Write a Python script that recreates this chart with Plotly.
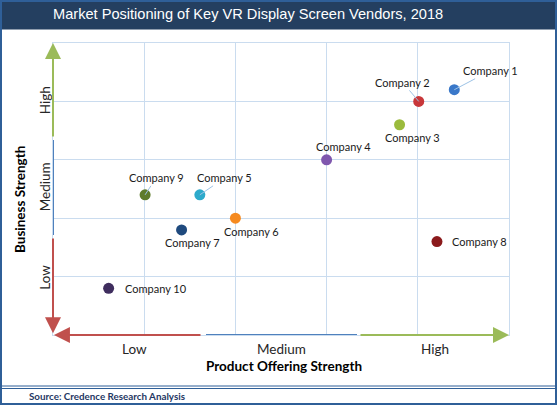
import plotly.graph_objects as go

# ---- data
companies = ["Company 1", "Company 2", "Company 3", "Company 4", "Company 5",
             "Company 6", "Company 7", "Company 8", "Company 9", "Company 10"]
product_strength = [4.40, 4.01, 3.80, 3.00, 1.61, 2.00, 1.41, 4.21, 1.01, 0.61]
business_strength = [4.20, 4.00, 3.60, 3.00, 2.40, 2.00, 1.80, 1.60, 2.40, 0.80]

level_names = ["Low", "Medium", "High"]
x_level_pos = [0.89, 2.51, 4.19]
y_level_pos = [0.98, 2.53, 4.02]

# ---- styles
dot_colors = ["#3A78C9", "#C8373A", "#9BBB3D", "#7F57AE", "#2DAACB",
              "#F58A20", "#1F4A7E", "#8B1A1C", "#5E7B2A", "#3F2D5E"]
# label offsets in pixels from the dot (dx, dy down), and whether a leader line is drawn
label_offsets = [(36, -19, True), (-16, -19, True), (13, 13, False), (17, -13, False),
                 (25, -17, True), (16, 13, False), (11, 13, False), (43, 0, False),
                 (11, -17, True), (47, 0, False)]

W, H = 557, 405
L, R, T, B = 53, 509, 43, 335   # plot area in pixels


def px(x):
    return (x - L) / (R - L)


def py(y):
    return (B - y) / (B - T)


def note(x, y, text, size, color, family="Lato", xanchor="center", angle=0):
    # text placed in pixel coordinates of the whole figure
    return dict(x=px(x), y=py(y), xref="paper", yref="paper", text=text, showarrow=False,
                xanchor=xanchor, yanchor="middle", textangle=angle,
                font=dict(family=family, size=size, color=color))


fig = go.Figure()
fig.add_trace(go.Scatter(x=product_strength, y=business_strength, mode="markers",
                         marker=dict(size=11, color=dot_colors), cliponaxis=False,
                         hoverinfo="text", text=companies))

ann = []
for name, xv, yv, (dx, dy, lead) in zip(companies, product_strength, business_strength, label_offsets):
    if lead:
        ann.append(dict(x=xv, y=yv, text=name, showarrow=True, ax=dx, ay=dy,
                        arrowhead=0, arrowwidth=1, arrowcolor="#9DC3E6", standoff=0,
                        font=dict(family="Lato", size=11, color="#1a1a1a")))
    else:
        ann.append(dict(x=xv, y=yv, text=name, showarrow=False, xshift=dx, yshift=-dy,
                        xanchor="center", yanchor="middle",
                        font=dict(family="Lato", size=11, color="#1a1a1a")))

# level labels
for name, xp in zip(level_names, x_level_pos):
    ann.append(dict(x=xp, y=py(349), yref="paper", text=name, showarrow=False,
                    xanchor="center", yanchor="middle",
                    font=dict(family="Lato", size=13.5, color="#262626")))
for name, yp in zip(level_names, y_level_pos):
    ann.append(dict(x=px(45), xref="paper", y=yp, text=name, showarrow=False, textangle=-90,
                    xanchor="center", yanchor="middle",
                    font=dict(family="Lato", size=13.5, color="#262626")))

# axis titles, title and source
ann.append(note(284, 366, "<b>Product Offering Strength</b>", 13.5, "#000000"))
ann.append(note(20, 200, "<b>Business Strength</b>", 13.5, "#000000", angle=-90))
ann.append(note(51, 14, "Market Positioning of Key VR Display Screen Vendors, 2018",
                14.6, "#ffffff", family="Liberation Sans", xanchor="left"))
ann.append(note(27, 396, "<b>Source: Credence Research Analysis</b>", 9.8, "#1F3864", xanchor="left"))

# axis arrows (heads)
GREEN, BLUE, RED = "#9BBB59", "#4F81BD", "#C0504D"
arrow = dict(text="", showarrow=True, axref="x", ayref="y", arrowhead=2,
             arrowsize=1.6, arrowwidth=2, standoff=0)
ann.append(dict(arrow, x=0, y=5, ax=0, ay=(B - 138) / 58.4, arrowcolor=GREEN))
ann.append(dict(arrow, x=0, y=0.03, ax=0, ay=(B - 237) / 58.4, arrowcolor=RED))
ann.append(dict(arrow, x=0.01, y=0, ax=(202 - L) / 91.2, ay=0, arrowcolor=RED))
ann.append(dict(arrow, x=5, y=0, ax=(359 - L) / 91.2, ay=0, arrowcolor=GREEN))

shapes = [
    # blue middle parts of the axes
    dict(type="line", x0=0, x1=0, y0=(B - 140) / 58.4, y1=(B - 235) / 58.4,
         line=dict(color=BLUE, width=2)),
    dict(type="line", y0=0, y1=0, x0=(206 - L) / 91.2, x1=(357 - L) / 91.2,
         line=dict(color=BLUE, width=2)),
    # title bar
    dict(type="rect", xref="paper", yref="paper", x0=px(0), x1=px(W), y0=py(0), y1=py(29.5),
         fillcolor="#243F60", line=dict(width=0)),
    # footer separators
    dict(type="line", xref="paper", yref="paper", x0=px(0), x1=px(W), y0=py(386), y1=py(386),
         line=dict(color="#2F5F98", width=1)),
    dict(type="line", xref="paper", yref="paper", x0=px(0), x1=px(W), y0=py(388.5), y1=py(388.5),
         line=dict(color="#2F5F98", width=1)),
    # outer border
    dict(type="rect", xref="paper", yref="paper", x0=px(1), x1=px(W - 1), y0=py(1), y1=py(H - 1),
         line=dict(color="#2F5F98", width=2)),
]

grid = "#CADCEF"
fig.update_layout(
    width=W, height=H,
    margin=dict(l=L, r=W - R, t=T, b=H - B),
    paper_bgcolor="#ffffff", plot_bgcolor="#ffffff",
    showlegend=False,
    annotations=ann, shapes=shapes,
    xaxis=dict(range=[0, 5], dtick=1, showgrid=True, gridcolor=grid, zeroline=False,
               showticklabels=False, showline=True, mirror=True, linecolor=grid, fixedrange=True),
    yaxis=dict(range=[0, 5], dtick=1, showgrid=True, gridcolor=grid, zeroline=False,
               showticklabels=False, showline=True, mirror=True, linecolor=grid, fixedrange=True),
)

fig.write_html("out.html", config={"displayModeBar": False},
               post_script="document.body.style.margin='0';")
